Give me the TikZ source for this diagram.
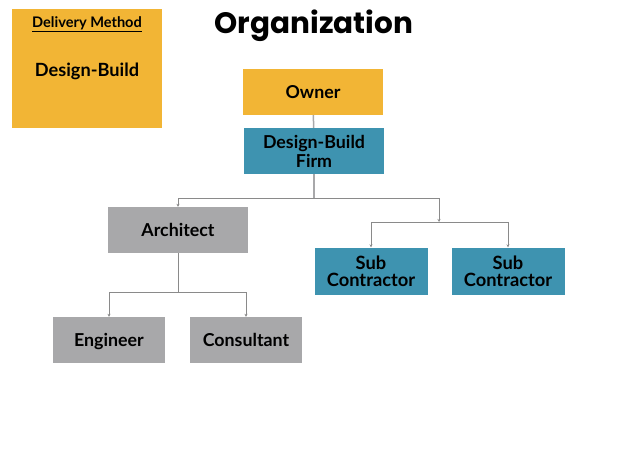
\documentclass[tikz,border=0pt]{standalone}
\usepackage{fontspec}
\setmainfont{Lato}
\newfontfamily\titlefont{Poppins}
\usetikzlibrary{arrows.meta}

\definecolor{ownergold}{HTML}{F2B535}
\definecolor{firmteal}{HTML}{3E93B0}
\definecolor{staffgray}{HTML}{A8A8AA}
\definecolor{linkgray}{HTML}{8A8A8A}

\begin{document}
\begin{tikzpicture}[x=1pt,y=-1pt,
    box/.style={inner sep=0pt,align=center,font=\fontsize{17.8}{19}\selectfont\bfseries},
    widebox/.style={box,minimum width=140pt,minimum height=46pt},
    smallbox/.style={box,minimum width=113pt,minimum height=47pt},
    oneline/.style={text height=12.8pt,text depth=0pt},
    link/.style={draw=linkgray,line width=1pt},
    linkarrow/.style={link,-{Stealth[length=3pt,width=3pt]}}]
    \useasboundingbox (0,0) rectangle (628,471);
    % delivery method panel
    \node[fill=ownergold,minimum width=150pt,minimum height=119pt] (method) at (87,68.5) {};
    \node[font=\fontsize{14.6}{16}\selectfont\bfseries] (methodhead) at (87,24.5) {\underline{Delivery Method}};
    \node[font=\fontsize{18.2}{19}\selectfont\bfseries] (methodname) at (87,71) {Design-Build};
    \node[font=\fontsize{29.5}{32}\selectfont\titlefont\bfseries] (title) at (314,25.5) {Organization};
    % chart
    \node[widebox,oneline,fill=ownergold] (owner) at (313,92) {Owner};
    \node[widebox,fill=firmteal] (firm) at (314,151) {Design-Build\\Firm};
    \node[widebox,oneline,fill=staffgray] (arch) at (178,230) {Architect};
    \node[smallbox,fill=firmteal,font=\fontsize{18.3}{17}\selectfont\bfseries] (subA) at (371,271) {Sub\\Contractor};
    \node[smallbox,fill=firmteal,font=\fontsize{18.3}{17}\selectfont\bfseries] (subB) at (508,271) {Sub\\Contractor};
    \node[smallbox,oneline,fill=staffgray,minimum width=112pt,minimum height=46pt] (eng) at (109,340) {Engineer};
    \node[smallbox,oneline,fill=staffgray,minimum width=112pt,minimum height=46pt] (cons) at (246,340) {Consultant};
    \coordinate (firmsplit) at (314,198);
    \coordinate (subsplit) at (439,222);
    \coordinate (archsplit) at (178,292);
    % links
    \draw[link,draw=staffgray,line width=1.5pt] (owner) -- (firm);
    \draw[link,draw=staffgray,line width=1.5pt] (firm) -- (firmsplit);
    \draw[linkarrow] (firmsplit) -| (arch);
    \draw[linkarrow] (firmsplit) -| (subsplit);
    \draw[linkarrow] (subsplit) -| (subA);
    \draw[linkarrow] (subsplit) -| (subB);
    \draw[link] (arch) -- (archsplit);
    \draw[linkarrow] (archsplit) -| (eng);
    \draw[linkarrow] (archsplit) -| (cons);
\end{tikzpicture}
\end{document}
